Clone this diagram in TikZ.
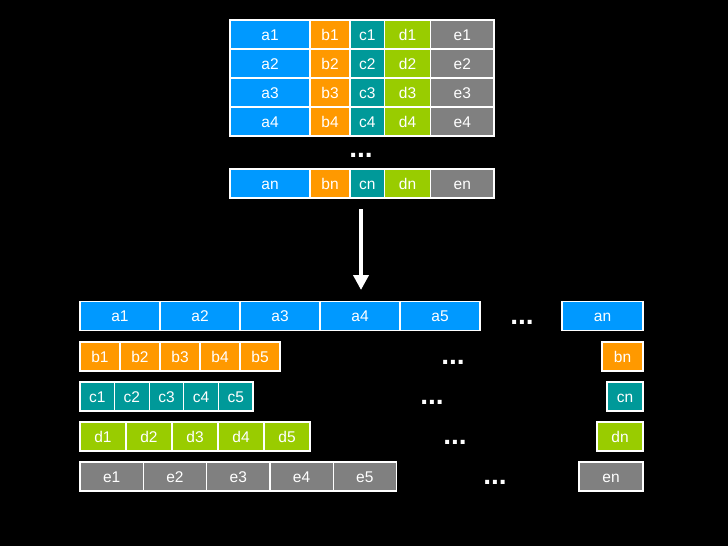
\documentclass[tikz,border=0pt]{standalone}
\usepackage{fontspec}
\setmainfont{Liberation Sans}
\usetikzlibrary{positioning,arrows.meta}
\definecolor{colA}{RGB}{0,153,255}
\definecolor{colB}{RGB}{255,153,0}
\definecolor{colC}{RGB}{0,153,153}
\definecolor{colD}{RGB}{153,204,0}
\definecolor{colE}{RGB}{128,128,128}

\begin{document}
\begin{tikzpicture}[x=1pt, y=-1pt,
    cell/.style={rectangle, draw=white, line width=1.2pt, text=white, minimum height=29pt, inner sep=0pt, outer sep=0pt, text height=11pt, text depth=0pt, font=\fontsize{15.5}{18}\selectfont},
    ca/.style={cell, fill=colA, minimum width=80pt},
    cb/.style={cell, fill=colB, minimum width=40pt},
    cc/.style={cell, fill=colC, minimum width=34.6pt},
    cd/.style={cell, fill=colD, minimum width=46pt},
    ce/.style={cell, fill=colE, minimum width=63.3pt},
    dots/.style={text=white, inner sep=0pt, font=\fontsize{28}{28}\selectfont\bfseries},
    arrow/.style={-{Triangle[width=15pt,length=15pt]}, draw=white, line width=4pt},
]
    \useasboundingbox (0,0) rectangle (728,546);
    \fill[black] (0,0) rectangle (728,546);

    % row-wise table
    \foreach \r/\y in {1/34.5, 2/63.5, 3/92.5, 4/121.5, n/183.5} {
        \node[ca, anchor=west] (ta\r) at (230,\y) {a\r};
        \node[cb, right=0pt of ta\r] (tb\r) {b\r};
        \node[cc, right=0pt of tb\r] (tc\r) {c\r};
        \node[cd, right=0pt of tc\r] (td\r) {d\r};
        \node[ce, right=0pt of td\r] (te\r) {e\r};
    }
    \node[dots] (tdots) at (361,155) {...};

    \coordinate (arrtop) at (361,209);
    \coordinate (arrbot) at (361,290);
    \draw[arrow] (arrtop) -- (arrbot);

    % column-wise storage
    \node[ca, anchor=west] (a1) at (80,316) {a1};
    \node[cb, anchor=west] (b1) at (80,356.5) {b1};
    \node[cc, anchor=west] (c1) at (80,396.5) {c1};
    \node[cd, anchor=west] (d1) at (80,436.5) {d1};
    \node[ce, anchor=west] (e1) at (80,476.5) {e1};
    \foreach \col in {a,b,c,d,e} {
        \foreach \i [remember=\i as \p (initially 1)] in {2,...,5}
            \node[c\col, right=0pt of \col\p] (\col\i) {\col\i};
    }

    \node[dots] (adots) at (522,322) {...};
    \node[dots] (bdots) at (453,362) {...};
    \node[dots] (cdots) at (432,402) {...};
    \node[dots] (ddots) at (455,442) {...};
    \node[dots] (edots) at (495,482) {...};

    \node[ca, anchor=east, minimum width=81pt] (an) at (643,316) {an};
    \node[cb, anchor=east, minimum width=41pt] (bn) at (643,356.5) {bn};
    \node[cc, anchor=east, minimum width=36pt] (cn) at (643,396.5) {cn};
    \node[cd, anchor=east, minimum width=46pt] (dn) at (643,436.5) {dn};
    \node[ce, anchor=east, minimum width=64pt] (en) at (643,476.5) {en};
\end{tikzpicture}
\end{document}
